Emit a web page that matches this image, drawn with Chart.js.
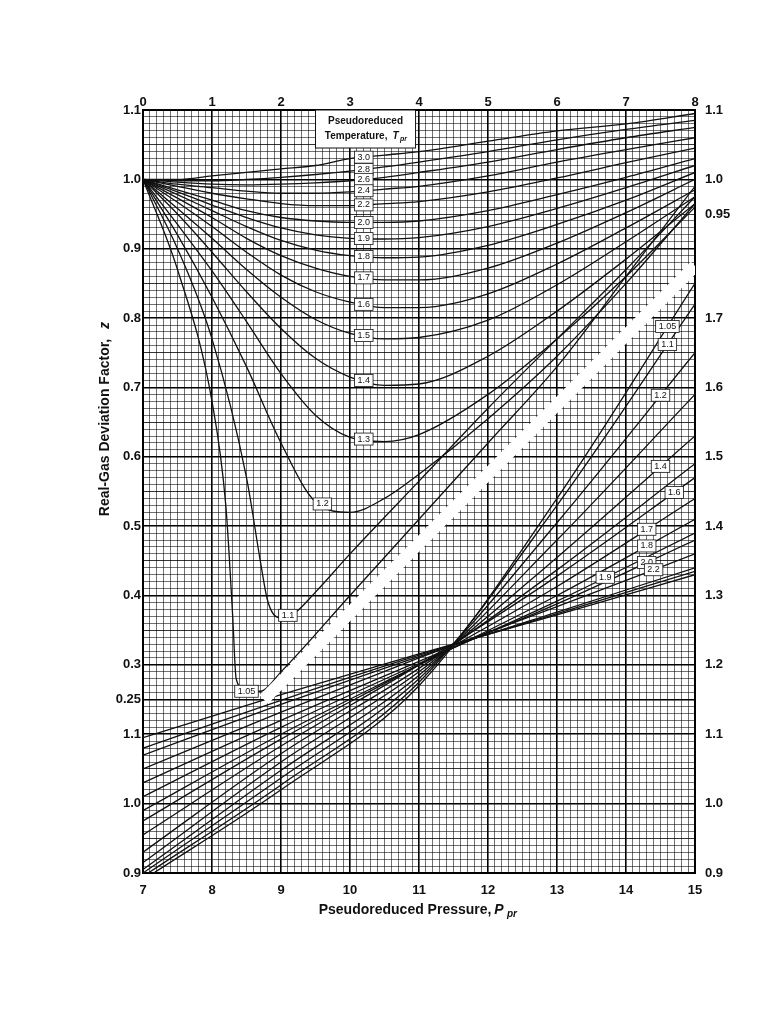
<!DOCTYPE html>
<html>
<head>
<meta charset="utf-8">
<script src="https://cdn.jsdelivr.net/npm/chart.js@4.4.1/dist/chart.umd.min.js"></script>
<style>
  body { margin: 0; background: #fff; }
  canvas { display: block; }
</style>
</head>
<body>
<canvas id="chart" width="768" height="1024"></canvas>
<script>
// upper section: Ppr 0-8, z 0.25-1.1
const pprUpper = [0, 0.5, 1, 1.5, 2, 2.5, 3, 3.5, 4, 5, 6, 7, 8];
const zUpper = {
    '3.0': [1, 1.0, 1.005, 1.01, 1.015, 1.02, 1.03, 1.035, 1.04, 1.055, 1.07, 1.08, 1.095],
    '2.8': [1, 0.998, 0.998, 1.0, 1.003, 1.007, 1.012, 1.018, 1.025, 1.04, 1.057, 1.072, 1.085],
    '2.6': [1, 0.996, 0.993, 0.992, 0.993, 0.995, 0.998, 1.003, 1.01, 1.025, 1.043, 1.06, 1.075],
    '2.4': [1, 0.993, 0.988, 0.983, 0.98, 0.98, 0.982, 0.986, 0.99, 1.005, 1.025, 1.043, 1.06],
    '2.2': [1, 0.99, 0.98, 0.972, 0.965, 0.962, 0.962, 0.965, 0.968, 0.982, 1.002, 1.024, 1.045],
    '2.0': [1, 0.985, 0.97, 0.955, 0.945, 0.94, 0.938, 0.938, 0.94, 0.955, 0.978, 1.003, 1.03],
    '1.9': [1, 0.982, 0.963, 0.945, 0.93, 0.92, 0.915, 0.914, 0.916, 0.932, 0.958, 0.988, 1.02],
    '1.8': [1, 0.978, 0.955, 0.932, 0.912, 0.898, 0.89, 0.887, 0.888, 0.905, 0.935, 0.97, 1.01],
    '1.7': [1, 0.973, 0.945, 0.915, 0.89, 0.872, 0.86, 0.855, 0.855, 0.872, 0.908, 0.952, 1.0],
    '1.6': [1, 0.967, 0.932, 0.895, 0.862, 0.838, 0.823, 0.815, 0.815, 0.835, 0.878, 0.93, 0.985],
    '1.5': [1, 0.958, 0.915, 0.87, 0.83, 0.798, 0.778, 0.77, 0.772, 0.797, 0.848, 0.91, 0.975],
    '1.4': [1, 0.95, 0.895, 0.838, 0.785, 0.742, 0.715, 0.703, 0.705, 0.745, 0.81, 0.885, 0.965],
    '1.3': [1, 0.935, 0.868, 0.795, 0.72, 0.66, 0.628, 0.622, 0.632, 0.69, 0.77, 0.86, 0.96],
    '1.2': [1, 0.92, 0.83, 0.73, 0.62, 0.535, 0.52, 0.54, 0.575, 0.655, 0.745, 0.85, 0.965]
};
const ppr11 = [0, 0.5, 1, 1.5, 1.7, 1.8, 1.9, 2.0, 2.2, 2.5, 3, 4, 5, 6, 7, 8];
const z11 = [1, 0.9, 0.77, 0.57, 0.45, 0.395, 0.372, 0.368, 0.375, 0.405, 0.46, 0.565, 0.67, 0.77, 0.87, 0.975];
const ppr105 = [0, 0.5, 1, 1.2, 1.3, 1.35, 1.5, 1.7, 2, 3, 4, 5, 6, 7, 8];
const z105 = [1, 0.87, 0.68, 0.53, 0.37, 0.28, 0.262, 0.262, 0.29, 0.4, 0.51, 0.62, 0.73, 0.86, 0.99];
// label positions (Ppr) on upper curves
const upperLabelAt = {
    '3.0': 3.2, '2.8': 3.2, '2.6': 3.2, '2.4': 3.2, '2.2': 3.2, '2.0': 3.2, '1.9': 3.2,
    '1.8': 3.2, '1.7': 3.2, '1.6': 3.2, '1.5': 3.2, '1.4': 3.2, '1.3': 3.2, '1.2': 2.6
};

// lower section: Ppr 7-15, z 0.9-1.7
const pprLower = [7, 9, 11, 13, 15];
const zLower = {
    '1.05': [0.89, 1.02, 1.17, 1.44, 1.75],
    '1.1': [0.895, 1.027, 1.175, 1.43, 1.72],
    '1.2': [0.9, 1.037, 1.18, 1.405, 1.65],
    '1.3': [0.905, 1.048, 1.185, 1.38, 1.59],
    '1.4': [0.915, 1.06, 1.19, 1.355, 1.53],
    '1.5': [0.93, 1.072, 1.195, 1.337, 1.49],
    '1.6': [0.955, 1.083, 1.2, 1.328, 1.47],
    '1.7': [0.975, 1.093, 1.2, 1.313, 1.44],
    '1.8': [0.99, 1.1, 1.2, 1.3, 1.41],
    '1.9': [1.01, 1.11, 1.202, 1.292, 1.39],
    '2.0': [1.03, 1.12, 1.205, 1.288, 1.38],
    '2.2': [1.05, 1.132, 1.21, 1.284, 1.36],
    '2.4': [1.07, 1.143, 1.212, 1.276, 1.34],
    '2.6': [1.08, 1.149, 1.214, 1.274, 1.335],
    '3.0': [1.095, 1.157, 1.216, 1.272, 1.33]
};
const lowerLabelAt = {
    '1.05': 14.6, '1.1': 14.6, '1.2': 14.5, '1.4': 14.5, '1.6': 14.7, '1.7': 14.3,
    '1.8': 14.3, '1.9': 13.7, '2.0': 14.3, '2.2': 14.4
};

const bandPpr = [1.75, 8];
const bandZ = [0.25, 0.875];

const black = '#111';
const datasets = [];
datasets.push({
    data: bandPpr.map((p, i) => ({ x: p, y: bandZ[i] })),
    xAxisID: 'x', yAxisID: 'y', borderColor: '#fff', borderWidth: 12,
    pointRadius: 0, order: 0
});
for (const t in zUpper) {
    datasets.push({
        label: t, part: 'up',
        data: pprUpper.map((p, i) => ({ x: p, y: zUpper[t][i] })),
        xAxisID: 'x', yAxisID: 'y'
    });
}
datasets.push({ label: '1.1', part: 'up', data: ppr11.map((p, i) => ({ x: p, y: z11[i] })), xAxisID: 'x', yAxisID: 'y' });
datasets.push({ label: '1.05', part: 'up', data: ppr105.map((p, i) => ({ x: p, y: z105[i] })), xAxisID: 'x', yAxisID: 'y' });
for (const t in zLower) {
    datasets.push({
        label: t, part: 'low',
        data: pprLower.map((p, i) => ({ x: p, y: zLower[t][i] })),
        xAxisID: 'x2', yAxisID: 'y2'
    });
}
datasets.forEach(d => {
    if (d.part) {
        d.borderColor = black; d.borderWidth = 1.3; d.pointRadius = 0;
        d.cubicInterpolationMode = 'monotone'; d.fill = false;
    }
});

const r2 = v => Math.round(v * 100) / 100;
const font = { family: 'Liberation Sans', size: 13, weight: 'bold' };

function valueAt(ds, x) {
    const d = ds.data;
    for (let i = 0; i < d.length - 1; i++) {
        if (x >= d[i].x && x <= d[i + 1].x) {
            const f = (x - d[i].x) / (d[i + 1].x - d[i].x);
            return d[i].y + f * (d[i + 1].y - d[i].y);
        }
    }
    return null;
}

const curveLabels = {
    id: 'curveLabels',
    afterDatasetsDraw(chart) {
        const c = chart.ctx;
        c.save();
        c.font = '9px "Liberation Sans"';
        c.textAlign = 'center';
        c.textBaseline = 'middle';
        chart.data.datasets.forEach(ds => {
            if (!ds.part) return;
            let px;
            if (ds.part === 'up') px = upperLabelAt[ds.label];
            else px = lowerLabelAt[ds.label];
            if (ds.part === 'up' && ds.label === '1.1') px = 2.1;
            if (ds.part === 'up' && ds.label === '1.05') px = 1.5;
            if (px === undefined) return;
            const xs = chart.scales[ds.part === 'up' ? 'x' : 'x2'];
            const ys = chart.scales[ds.part === 'up' ? 'y' : 'y2'];
            const v = valueAt(ds, px);
            if (v === null) return;
            const X = xs.getPixelForValue(px), Y = ys.getPixelForValue(v);
            const w = c.measureText(ds.label).width + 6;
            c.fillStyle = '#fff';
            c.fillRect(X - w / 2, Y - 6, w, 12);
            c.strokeStyle = black; c.lineWidth = 0.8;
            c.strokeRect(X - w / 2, Y - 6, w, 12);
            c.fillStyle = black;
            c.fillText(ds.label, X, Y);
        });
        // legend box
        const xs = chart.scales.x, ys = chart.scales.y;
        const bx = xs.getPixelForValue(2.5), bw = xs.getPixelForValue(3.95) - bx;
        const by = ys.getPixelForValue(1.1), bh = 38;
        c.fillStyle = '#fff';
        c.fillRect(bx, by, bw, bh);
        c.strokeStyle = black; c.lineWidth = 1;
        c.strokeRect(bx, by, bw, bh);
        c.fillStyle = black;
        c.font = 'bold 10px "Liberation Sans"';
        c.fillText('Pseudoreduced', bx + bw / 2, by + 11);
        c.fillText('Temperature, ', bx + bw / 2 - 8, by + 26);
        c.font = 'italic bold 10px "Liberation Sans"';
        c.fillText('T', bx + bw / 2 + 30, by + 26);
        c.font = 'italic bold 7px "Liberation Sans"';
        c.fillText('pr', bx + bw / 2 + 38, by + 29);
        // axis titles
        const area = chart.chartArea;
        c.font = 'bold 14px "Liberation Sans"';
        c.textAlign = 'center';
        c.fillText('Pseudoreduced Pressure, ', (area.left + area.right) / 2 - 12, area.bottom + 37);
        c.font = 'italic bold 14px "Liberation Sans"';
        c.fillText('P', (area.left + area.right) / 2 + 80, area.bottom + 37);
        c.font = 'italic bold 10px "Liberation Sans"';
        c.fillText('pr', (area.left + area.right) / 2 + 93, area.bottom + 41);
        c.translate(area.left - 38, (area.top + area.bottom) / 2 - 70);
        c.rotate(-Math.PI / 2);
        c.font = 'bold 14px "Liberation Sans"';
        c.fillText('Real-Gas Deviation Factor, ', -4, 0);
        c.font = 'italic bold 14px "Liberation Sans"';
        c.fillText('z', 96, 0);
        c.restore();
    }
};

const ctx = document.getElementById('chart').getContext('2d');
new Chart(ctx, {
    type: 'line',
    data: { datasets },
    plugins: [curveLabels],
    options: {
        responsive: false,
        animation: false,
        layout: { padding: 0 },
        plugins: { legend: { display: false }, tooltip: { enabled: false } },
        scales: {
            x: {
                type: 'linear', position: 'top', min: 0, max: 8,
                afterBuildTicks: a => { a.ticks = []; for (let i = 0; i <= 80; i++) a.ticks.push({ value: i / 10 }); },
                afterFit: a => { a.height = 110; },
                ticks: { font, color: black, autoSkip: false, maxRotation: 0, padding: 0,
                    callback: v => (Math.abs(v - Math.round(v)) < 1e-6 ? String(Math.round(v)) : '') },
                grid: {
                    color: c => (Math.abs(c.tick.value - Math.round(c.tick.value)) < 1e-6 ? '#000' : 'rgba(0,0,0,0.7)'),
                    lineWidth: c => (Math.abs(c.tick.value - Math.round(c.tick.value)) < 1e-6 ? 1.6 : 0.8),
                    drawTicks: false
                },
                border: { color: '#000', width: 2 }
            },
            x2: {
                type: 'linear', position: 'bottom', min: 7, max: 15,
                afterBuildTicks: a => { a.ticks = []; for (let i = 7; i <= 15; i++) a.ticks.push({ value: i }); },
                afterFit: a => { a.height = 151; },
                ticks: { font, color: black, padding: 2 },
                grid: { display: false },
                border: { color: '#000', width: 2 }
            },
            y: {
                type: 'linear', position: 'left', min: 0, max: 1.1,
                afterBuildTicks: a => { a.ticks = []; for (let i = 0; i <= 110; i++) a.ticks.push({ value: i / 100 }); },
                afterFit: a => { a.width = 143; },
                ticks: {
                    font, color: black, autoSkip: false, padding: 2,
                    callback: v => {
                        const k = Math.round(v * 100);
                        if (k === 25) return '0.25';
                        if (k >= 30 && k % 10 === 0) return (k / 100).toFixed(1);
                        if (k === 0 || k === 10 || k === 20) return r2(v + 0.9).toFixed(1);
                        return '';
                    }
                },
                grid: {
                    color: c => (Math.round(c.tick.value * 100) % 5 === 0 ? '#000' : 'rgba(0,0,0,0.7)'),
                    lineWidth: c => (Math.round(c.tick.value * 100) % 10 === 0 || Math.round(c.tick.value * 100) === 25 ? 1.6 : 0.8),
                    drawTicks: false
                },
                border: { color: '#000', width: 2 }
            },
            y2: {
                type: 'linear', position: 'right', min: 0.9, max: 2.0,
                afterBuildTicks: a => {
                    a.ticks = [];
                    for (let i = 9; i <= 17; i++) a.ticks.push({ value: i / 10 });
                    [1.85, 1.9, 2.0].forEach(v => a.ticks.push({ value: v }));
                },
                afterFit: a => { a.width = 73; },
                ticks: {
                    font, color: black, autoSkip: false, padding: 2,
                    callback: v => {
                        if (v > 1.75) return v === 1.85 ? '0.95' : r2(v - 0.9).toFixed(1);
                        return r2(v).toFixed(1);
                    }
                },
                grid: { display: false },
                border: { color: '#000', width: 2 }
            }
        }
    }
});
</script>
</body>
</html>
